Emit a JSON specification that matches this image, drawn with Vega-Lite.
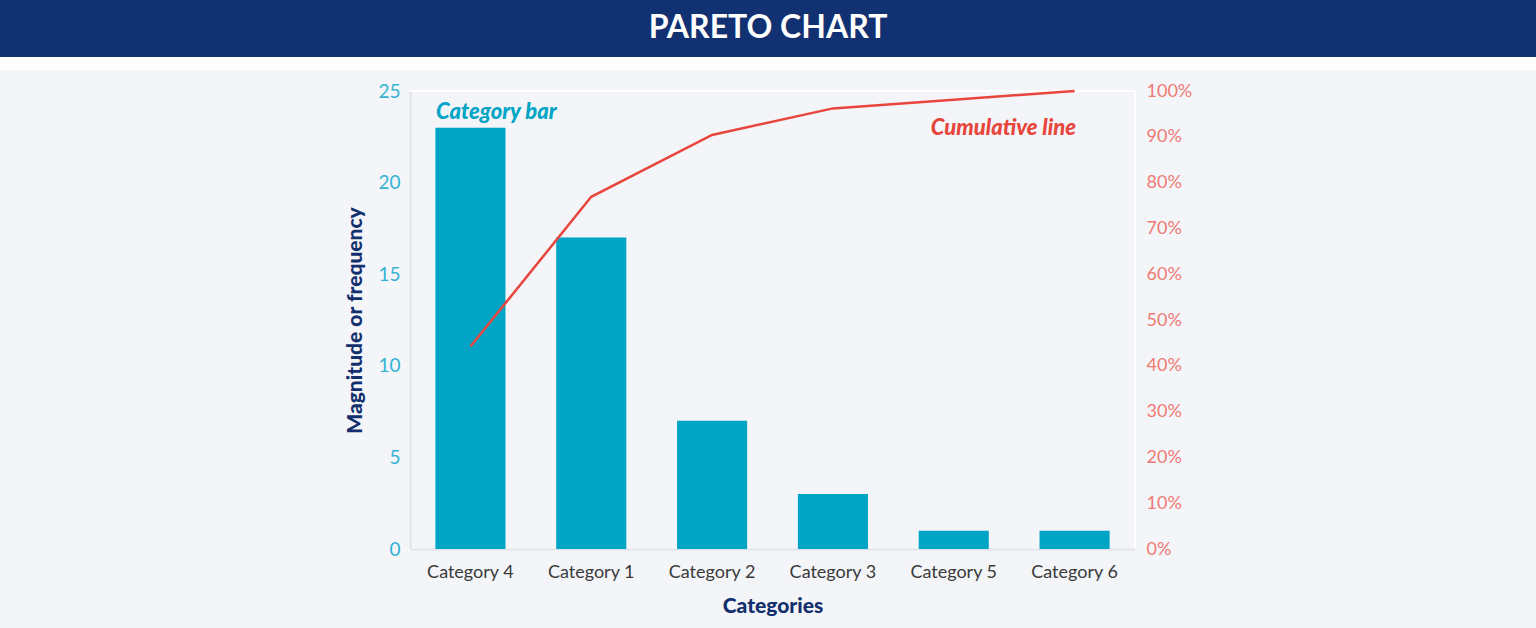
{
  "$schema": "https://vega.github.io/schema/vega-lite/v6.json",
  "background": "#f3f5f9",
  "padding": 0,
  "spacing": 0,
  "config": {
    "font": "Lato",
    "view": {"stroke": null},
    "concat": {"spacing": 0}
  },
  "vconcat": [
    {
      "width": 1536,
      "height": 57,
      "view": {"fill": "#113172", "stroke": null},
      "data": {"values": [{"label": "PARETO CHART"}]},
      "mark": {"type": "text", "color": "white", "font": "Lato", "fontSize": 32, "fontWeight": "bold", "baseline": "middle", "dy": -1},
      "encoding": {"text": {"field": "label"}}
    },
    {
      "width": 1536,
      "height": 13,
      "view": {"fill": "#ffffff", "stroke": null},
      "data": {"values": [{"label": ""}]},
      "mark": {"type": "text"},
      "encoding": {"text": {"field": "label"}}
    },
    {
      "width": 1536,
      "height": 10,
      "view": {"fill": "#f3f5f9", "stroke": null},
      "data": {"values": [{"label": ""}]},
      "mark": {"type": "text"},
      "encoding": {"text": {"field": "label"}}
    },
    {
      "spacing": 0,
      "hconcat": [
        {
          "width": 343,
          "height": 458,
          "view": {"fill": "#f3f5f9", "stroke": null},
          "data": {"values": [{"label": ""}]},
          "mark": {"type": "text"},
          "encoding": {"text": {"field": "label"}}
        },
        {
          "width": 725,
          "height": 458,
          "view": {"stroke": "#ffffff", "strokeWidth": 2},
          "data": {
            "values": [
              {"category": "Category 4", "count": 23, "cumulative": 0.442},
              {"category": "Category 1", "count": 17, "cumulative": 0.769},
              {"category": "Category 2", "count": 7, "cumulative": 0.904},
              {"category": "Category 3", "count": 3, "cumulative": 0.962},
              {"category": "Category 5", "count": 1, "cumulative": 0.981},
              {"category": "Category 6", "count": 1, "cumulative": 1.0}
            ]
          },
          "encoding": {
            "x": {
              "field": "category",
              "type": "nominal",
              "sort": null,
              "scale": {"paddingInner": 0.42, "paddingOuter": 0.21},
              "axis": {
                "title": "Categories",
                "titleFont": "Lato",
                "titleFontSize": 21,
                "titleFontWeight": 900,
                "titleColor": "#13306e",
                "titlePadding": 14,
                "labelAngle": 0,
                "labelFont": "Lato",
                "labelFontSize": 18,
                "labelColor": "#3a3a3a",
                "labelPadding": 14,
                "ticks": false,
                "domainColor": "#e1e3e8",
                "domainWidth": 2
              }
            }
          },
          "layer": [
            {
              "layer": [
                {
                  "mark": {"type": "bar", "color": "#00a4c5"},
                  "encoding": {
                    "y": {
                      "field": "count",
                      "type": "quantitative",
                      "scale": {"domain": [0, 25], "nice": false},
                      "axis": {
                        "title": "Magnitude or frequency",
                        "titleFont": "Lato",
                        "titleFontSize": 21,
                        "titleFontWeight": 900,
                        "titleColor": "#13306e",
                        "titlePadding": 12,
                        "values": [0, 5, 10, 15, 20, 25],
                        "labelFont": "Lato",
                        "labelFontSize": 19,
                        "labelColor": "#34b3d3",
                        "labelPadding": 10,
                        "ticks": false,
                        "grid": false,
                        "domainColor": "#e0e2e6",
                        "domainWidth": 2
                      }
                    }
                  }
                },
                {
                  "data": {"values": [{"category": "Category 4", "count": 23.85, "note": "Category bar"}]},
                  "mark": {"type": "text", "color": "#00a4c5", "font": "Lato", "fontSize": 22, "fontWeight": 900, "fontStyle": "italic", "align": "left", "baseline": "middle"},
                  "encoding": {
                    "x": {"field": "category", "type": "nominal", "bandPosition": 0.01},
                    "y": {"field": "count", "type": "quantitative"},
                    "text": {"field": "note"}
                  }
                }
              ]
            },
            {
              "layer": [
                {
                  "mark": {"type": "line", "color": "#e8453c", "strokeWidth": 2.5},
                  "encoding": {
                    "y": {
                      "field": "cumulative",
                      "type": "quantitative",
                      "scale": {"domain": [0, 1], "nice": false},
                      "axis": {
                        "orient": "right",
                        "title": null,
                        "format": ".0%",
                        "values": [0, 0.1, 0.2, 0.3, 0.4, 0.5, 0.6, 0.7, 0.8, 0.9, 1],
                        "labelFont": "Lato",
                        "labelFontSize": 18,
                        "labelColor": "#f07a73",
                        "labelPadding": 11,
                        "ticks": false,
                        "grid": false,
                        "domain": false
                      }
                    }
                  }
                },
                {
                  "data": {"values": [{"category": "Category 6", "cumulative": 0.919, "note": "Cumulative line"}]},
                  "mark": {"type": "text", "color": "#e8453c", "font": "Lato", "fontSize": 22, "fontWeight": 900, "fontStyle": "italic", "align": "right", "baseline": "middle"},
                  "encoding": {
                    "x": {"field": "category", "type": "nominal", "bandPosition": 0.52},
                    "y": {"field": "cumulative", "type": "quantitative"},
                    "text": {"field": "note"}
                  }
                }
              ]
            }
          ],
          "resolve": {"scale": {"y": "independent"}}
        }
      ]
    },
    {
      "width": 1536,
      "height": 20,
      "view": {"fill": "#f3f5f9", "stroke": null},
      "data": {"values": [{"label": ""}]},
      "mark": {"type": "text"},
      "encoding": {"text": {"field": "label"}}
    }
  ]
}
